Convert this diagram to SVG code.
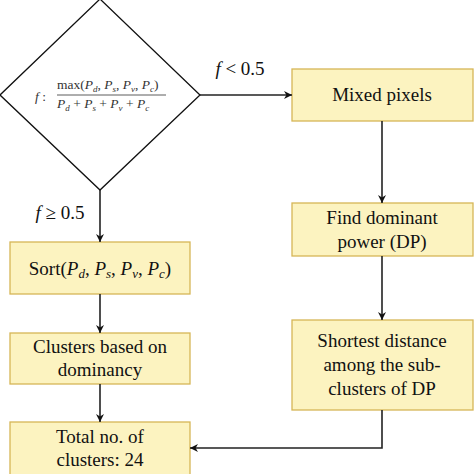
<svg xmlns="http://www.w3.org/2000/svg" width="474" height="474" viewBox="0 0 474 474" font-family="'Liberation Serif', 'DejaVu Serif', serif">
<style>
.box{fill:#fcf3c0;stroke:#d6b656;stroke-width:1.3}
.t{font-family:'Liberation Serif','DejaVu Serif',serif;font-size:19px;fill:#111;text-anchor:middle}
.m{font-family:'Liberation Serif','DejaVu Serif',serif;font-size:13.5px;fill:#333}
.e{stroke:#222;stroke-width:1.6;fill:none}
.i{font-style:italic}
</style>
<defs>
<marker id="a" viewBox="0 0 10 10" refX="10" refY="5" markerWidth="8" markerHeight="8" markerUnits="userSpaceOnUse" orient="auto">
<path d="M0,0 L10,5 L0,10 L3,5 Z" fill="#111"/>
</marker>
</defs>
<g id="decision">
<polygon points="100,-1 200,95 100,190 0,95" fill="#fff" stroke="#111" stroke-width="1.3"/>
<text class="m" x="35" y="101"><tspan class="i">f</tspan> :</text>
<text class="m" x="57" y="89">max(<tspan class="i">P</tspan><tspan font-size="9" dy="2.5" class="i">d</tspan><tspan dy="-2.5">, </tspan><tspan class="i">P</tspan><tspan font-size="9" dy="2.5" class="i">s</tspan><tspan dy="-2.5">, </tspan><tspan class="i">P</tspan><tspan font-size="9" dy="2.5" class="i">v</tspan><tspan dy="-2.5">, </tspan><tspan class="i">P</tspan><tspan font-size="9" dy="2.5" class="i">c</tspan><tspan dy="-2.5">)</tspan></text>
<line x1="57" y1="95" x2="166" y2="95" stroke="#333" stroke-width="0.8"/>
<text class="m" x="57" y="108"><tspan class="i">P</tspan><tspan font-size="9" dy="2.5" class="i">d</tspan><tspan dy="-2.5"> + </tspan><tspan class="i">P</tspan><tspan font-size="9" dy="2.5" class="i">s</tspan><tspan dy="-2.5"> + </tspan><tspan class="i">P</tspan><tspan font-size="9" dy="2.5" class="i">v</tspan><tspan dy="-2.5"> + </tspan><tspan class="i">P</tspan><tspan font-size="9" dy="2.5" class="i">c</tspan></text>
</g>
<g id="mixed">
<rect class="box" x="292" y="69" width="181" height="52"/>
<text class="t" x="382" y="101">Mixed pixels</text>
</g>
<g id="find">
<rect class="box" x="292" y="203" width="181" height="53"/>
<text class="t" x="382" y="224">Find dominant</text>
<text class="t" x="382" y="248">power (DP)</text>
</g>
<g id="shortest">
<rect class="box" x="292" y="320" width="181" height="90"/>
<text class="t" x="382" y="347">Shortest distance</text>
<text class="t" x="382" y="371">among the sub-</text>
<text class="t" x="382" y="395">clusters of DP</text>
</g>
<g id="sort">
<rect class="box" x="10" y="242" width="180" height="52"/>
<text class="t" x="100" y="275">Sort(<tspan class="i">P</tspan><tspan font-size="13" dy="3" class="i">d</tspan><tspan dy="-3">, </tspan><tspan class="i">P</tspan><tspan font-size="13" dy="3" class="i">s</tspan><tspan dy="-3">, </tspan><tspan class="i">P</tspan><tspan font-size="13" dy="3" class="i">v</tspan><tspan dy="-3">, </tspan><tspan class="i">P</tspan><tspan font-size="13" dy="3" class="i">c</tspan><tspan dy="-3">)</tspan></text>
</g>
<g id="clusters">
<rect class="box" x="10" y="333" width="180" height="51"/>
<text class="t" x="100" y="353">Clusters based on</text>
<text class="t" x="100" y="376">dominancy</text>
</g>
<g id="total">
<rect class="box" x="10" y="422" width="180" height="60"/>
<text class="t" x="100" y="443">Total no. of</text>
<text class="t" x="100" y="466">clusters: 24</text>
</g>
<g id="connectors">
<line class="e" x1="200" y1="95" x2="292" y2="95" marker-end="url(#a)"/>
<text class="t" x="240" y="75"><tspan class="i">f</tspan> &lt; 0.5</text>
<line class="e" x1="100" y1="190" x2="100" y2="242" marker-end="url(#a)"/>
<text class="t" x="60" y="219"><tspan class="i">f</tspan> ≥ 0.5</text>
<line class="e" x1="382" y1="121" x2="382" y2="203" marker-end="url(#a)"/>
<line class="e" x1="382" y1="256" x2="382" y2="320" marker-end="url(#a)"/>
<line class="e" x1="100" y1="294" x2="100" y2="333" marker-end="url(#a)"/>
<line class="e" x1="100" y1="384" x2="100" y2="422" marker-end="url(#a)"/>
<polyline class="e" points="382,410 382,448 190,448" marker-end="url(#a)"/>
</g>
</svg>
